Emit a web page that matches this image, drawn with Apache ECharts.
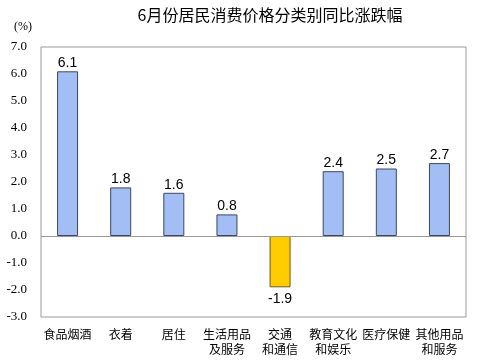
<!DOCTYPE html>
<html><head><meta charset="utf-8">
<script src="https://cdn.jsdelivr.net/npm/echarts@6/dist/echarts.min.js"></script>
<style>html,body{margin:0;padding:0;background:#fff}#c{width:477px;height:363px}</style>
</head><body><div id="c"></div>
<script>
const categories = ['食品烟酒','衣着','居住','生活用品\n及服务','交通\n和通信','教育文化\n和娱乐','医疗保健','其他用品\n和服务'];
const values = [6.1, 1.8, 1.6, 0.8, -1.9, 2.4, 2.5, 2.7];
const yTicks = {min: -3, max: 7, interval: 1};
const titleText = '6月份居民消费价格分类别同比涨跌幅';
const unitText = '(%)';

const chart = echarts.init(document.getElementById('c'), null, {renderer: 'canvas'});
chart.setOption({
  animation: false,
  backgroundColor: '#fff',
  title: {text: titleText, left: 265, top: 2, textAlign: 'center',
    textStyle: {fontFamily: 'Noto Sans CJK SC', fontSize: 16, fontWeight: 'normal', color: '#000'}},
  graphic: [{type: 'text', left: 14, top: 21, style: {text: unitText, fontFamily: 'Liberation Serif', fontSize: 12, fill: '#000'}}],
  grid: {left: 41, right: 11, top: 47, bottom: 46, show: true, borderColor: '#999', borderWidth: 1, containLabel: false},
  xAxis: {type: 'category', data: categories, position: 'bottom',
    axisLine: {show: false}, axisTick: {show: false}, splitLine: {show: false},
    axisLabel: {interval: 0, margin: 10, fontFamily: 'Noto Sans CJK SC', fontSize: 12, lineHeight: 15, color: '#000', verticalAlign: 'top'}},
  yAxis: {type: 'value', min: yTicks.min, max: yTicks.max, interval: yTicks.interval,
    axisLine: {show: false}, axisTick: {show: false}, splitLine: {show: false},
    axisLabel: {margin: 14, fontFamily: 'Liberation Serif', fontSize: 13, color: '#000', formatter: v => v.toFixed(1)}},
  series: [{type: 'bar', barWidth: 21,
    data: values.map(v => v < 0 ? {value: v, itemStyle: {color: '#FFCC00', borderColor: '#6B5A1E'}, label: {position: 'bottom', distance: 5}} : {value: v}),
    itemStyle: {color: '#A3BEF5', borderColor: '#3C4660', borderWidth: 1},
    label: {show: true, position: 'top', distance: 1, fontFamily: 'Liberation Sans', fontSize: 14, color: '#000', formatter: p => p.value.toFixed(1)},
    markLine: {silent: true, symbol: 'none', label: {show: false}, lineStyle: {color: '#999', type: 'solid', width: 1}, data: [{yAxis: 0}]}
  }]
});
</script></body></html>
